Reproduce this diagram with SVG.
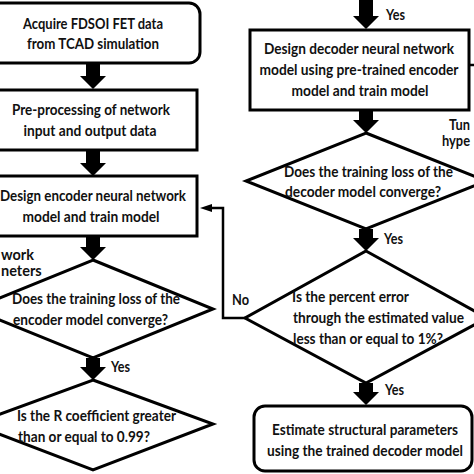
<svg xmlns="http://www.w3.org/2000/svg" width="474" height="474" viewBox="0 0 474 474">
<style>
.box{fill:#fff;stroke:#000;stroke-width:3}
.dia{fill:#fff;stroke:#000;stroke-width:3;stroke-linejoin:miter}
.t{font-family:Lato,"Liberation Sans",sans-serif;font-weight:bold;font-size:14.5px;fill:#111}
.c{text-anchor:middle}
.ba{fill:#000}
.ln{fill:none;stroke:#000;stroke-width:2.5}
</style>
<defs>
<marker id="ah" markerWidth="12" markerHeight="8" refX="0" refY="0" viewBox="0 -4 12 8" orient="auto" markerUnits="userSpaceOnUse">
<path d="M0,-4 L12,0 L0,4 Z" fill="#000"/>
</marker>
</defs>
<rect width="474" height="474" fill="#fff"/>

<g id="n1">
<rect class="box" x="-12" y="3" width="212" height="60" rx="11"/>
<text class="t c" x="93" y="29" textLength="140" lengthAdjust="spacingAndGlyphs">Acquire FDSOI FET data</text>
<text class="t c" x="93" y="49" textLength="132" lengthAdjust="spacingAndGlyphs">from TCAD simulation</text>
</g>
<g id="n2">
<rect class="box" x="-12" y="90" width="209" height="60"/>
<text class="t c" x="91" y="115" textLength="158" lengthAdjust="spacingAndGlyphs">Pre-processing of network</text>
<text class="t c" x="90" y="136" textLength="133" lengthAdjust="spacingAndGlyphs">input and output data</text>
</g>
<g id="n3">
<rect class="box" x="-12" y="176" width="209" height="60"/>
<text class="t c" x="93" y="201" textLength="186" lengthAdjust="spacingAndGlyphs">Design encoder neural network</text>
<text class="t c" x="91" y="222" textLength="137" lengthAdjust="spacingAndGlyphs">model and train model</text>
</g>
<g id="d1">
<path class="dia" d="M93,260 L213,309 L93,358 L-27,309 Z"/>
<text class="t" x="12" y="304" textLength="168" lengthAdjust="spacingAndGlyphs">Does the training loss of the</text>
<text class="t" x="13" y="325" textLength="155" lengthAdjust="spacingAndGlyphs">encoder model converge?</text>
</g>
<g id="d2">
<path class="dia" d="M93,380 L213,424 L93,470 L-27,424 Z"/>
<text class="t" x="17" y="421" textLength="159" lengthAdjust="spacingAndGlyphs">Is the R coefficient greater</text>
<text class="t" x="18" y="442" textLength="132" lengthAdjust="spacingAndGlyphs">than or equal to 0.99?</text>
</g>
<g id="n4">
<rect class="box" x="250" y="30" width="219" height="80"/>
<text class="t c" x="359" y="54" textLength="190" lengthAdjust="spacingAndGlyphs">Design decoder neural network</text>
<text class="t c" x="359" y="75" textLength="199" lengthAdjust="spacingAndGlyphs">model using pre-trained encoder</text>
<text class="t c" x="360" y="96" textLength="137" lengthAdjust="spacingAndGlyphs">model and train model</text>
</g>
<g id="d3">
<path class="dia" d="M366,133 L486,181 L366,229 L246,181 Z"/>
<text class="t" x="284" y="177" textLength="169" lengthAdjust="spacingAndGlyphs">Does the training loss of the</text>
<text class="t" x="285" y="197" textLength="156" lengthAdjust="spacingAndGlyphs">decoder model converge?</text>
</g>
<g id="d4">
<path class="dia" d="M366,251 L487,318 L366,383 L245,318 Z"/>
<text class="t" x="292" y="302" textLength="117" lengthAdjust="spacingAndGlyphs">Is the percent error</text>
<text class="t" x="293" y="323" textLength="171" lengthAdjust="spacingAndGlyphs">through the estimated value</text>
<text class="t" x="293" y="344" textLength="150" lengthAdjust="spacingAndGlyphs">less than or equal to 1%?</text>
</g>
<g id="n5">
<rect class="box" x="254" y="406" width="218" height="65" rx="11"/>
<text class="t c" x="365" y="435" textLength="186" lengthAdjust="spacingAndGlyphs">Estimate structural parameters</text>
<text class="t c" x="365" y="456" textLength="196" lengthAdjust="spacingAndGlyphs">using the trained decoder model</text>
</g>

<g id="connectors">
<path class="ba" d="M86,64 H100 V76 H106 L93,89 L80,76 H86 Z"/>
<path class="ba" d="M86,151 H100 V163 H106 L93,176 L80,163 H86 Z"/>
<path class="ba" d="M86,237 H100 V247 H106 L93,260 L80,247 H86 Z"/>
<path class="ba" d="M86,358 H100 V367 H106 L93,380 L80,367 H86 Z"/>
<path class="ba" d="M359,0 H373 V16 H379 L366,29 L353,16 H359 Z"/>
<path class="ba" d="M359,111 H373 V120 H379 L366,133 L353,120 H359 Z"/>
<path class="ba" d="M359,229 H373 V238 H379 L366,251 L353,238 H359 Z"/>
<path class="ba" d="M359,383 H373 V392 H379 L366,405 L353,392 H359 Z"/>
<line class="ln" x1="469" y1="65" x2="474" y2="65"/>
<path class="ln" d="M245,318 H223 V208 H212" marker-end="url(#ah)"/>
</g>

<g id="labels">
<text class="t" x="111" y="372" textLength="19" lengthAdjust="spacingAndGlyphs">Yes</text>
<text class="t" x="386" y="20" textLength="19" lengthAdjust="spacingAndGlyphs">Yes</text>
<text class="t" x="384" y="244" textLength="19" lengthAdjust="spacingAndGlyphs">Yes</text>
<text class="t" x="385" y="395" textLength="19" lengthAdjust="spacingAndGlyphs">Yes</text>
<text class="t" x="232" y="305" textLength="17" lengthAdjust="spacingAndGlyphs">No</text>
<text class="t" x="1" y="260" font-size="13">work</text>
<text class="t" x="1" y="276" font-size="13">neters</text>
<text class="t" x="449" y="130" font-size="13" textLength="21" lengthAdjust="spacingAndGlyphs">Tun</text>
<text class="t" x="442" y="146" font-size="13" textLength="28" lengthAdjust="spacingAndGlyphs">hype</text>
</g>
</svg>
